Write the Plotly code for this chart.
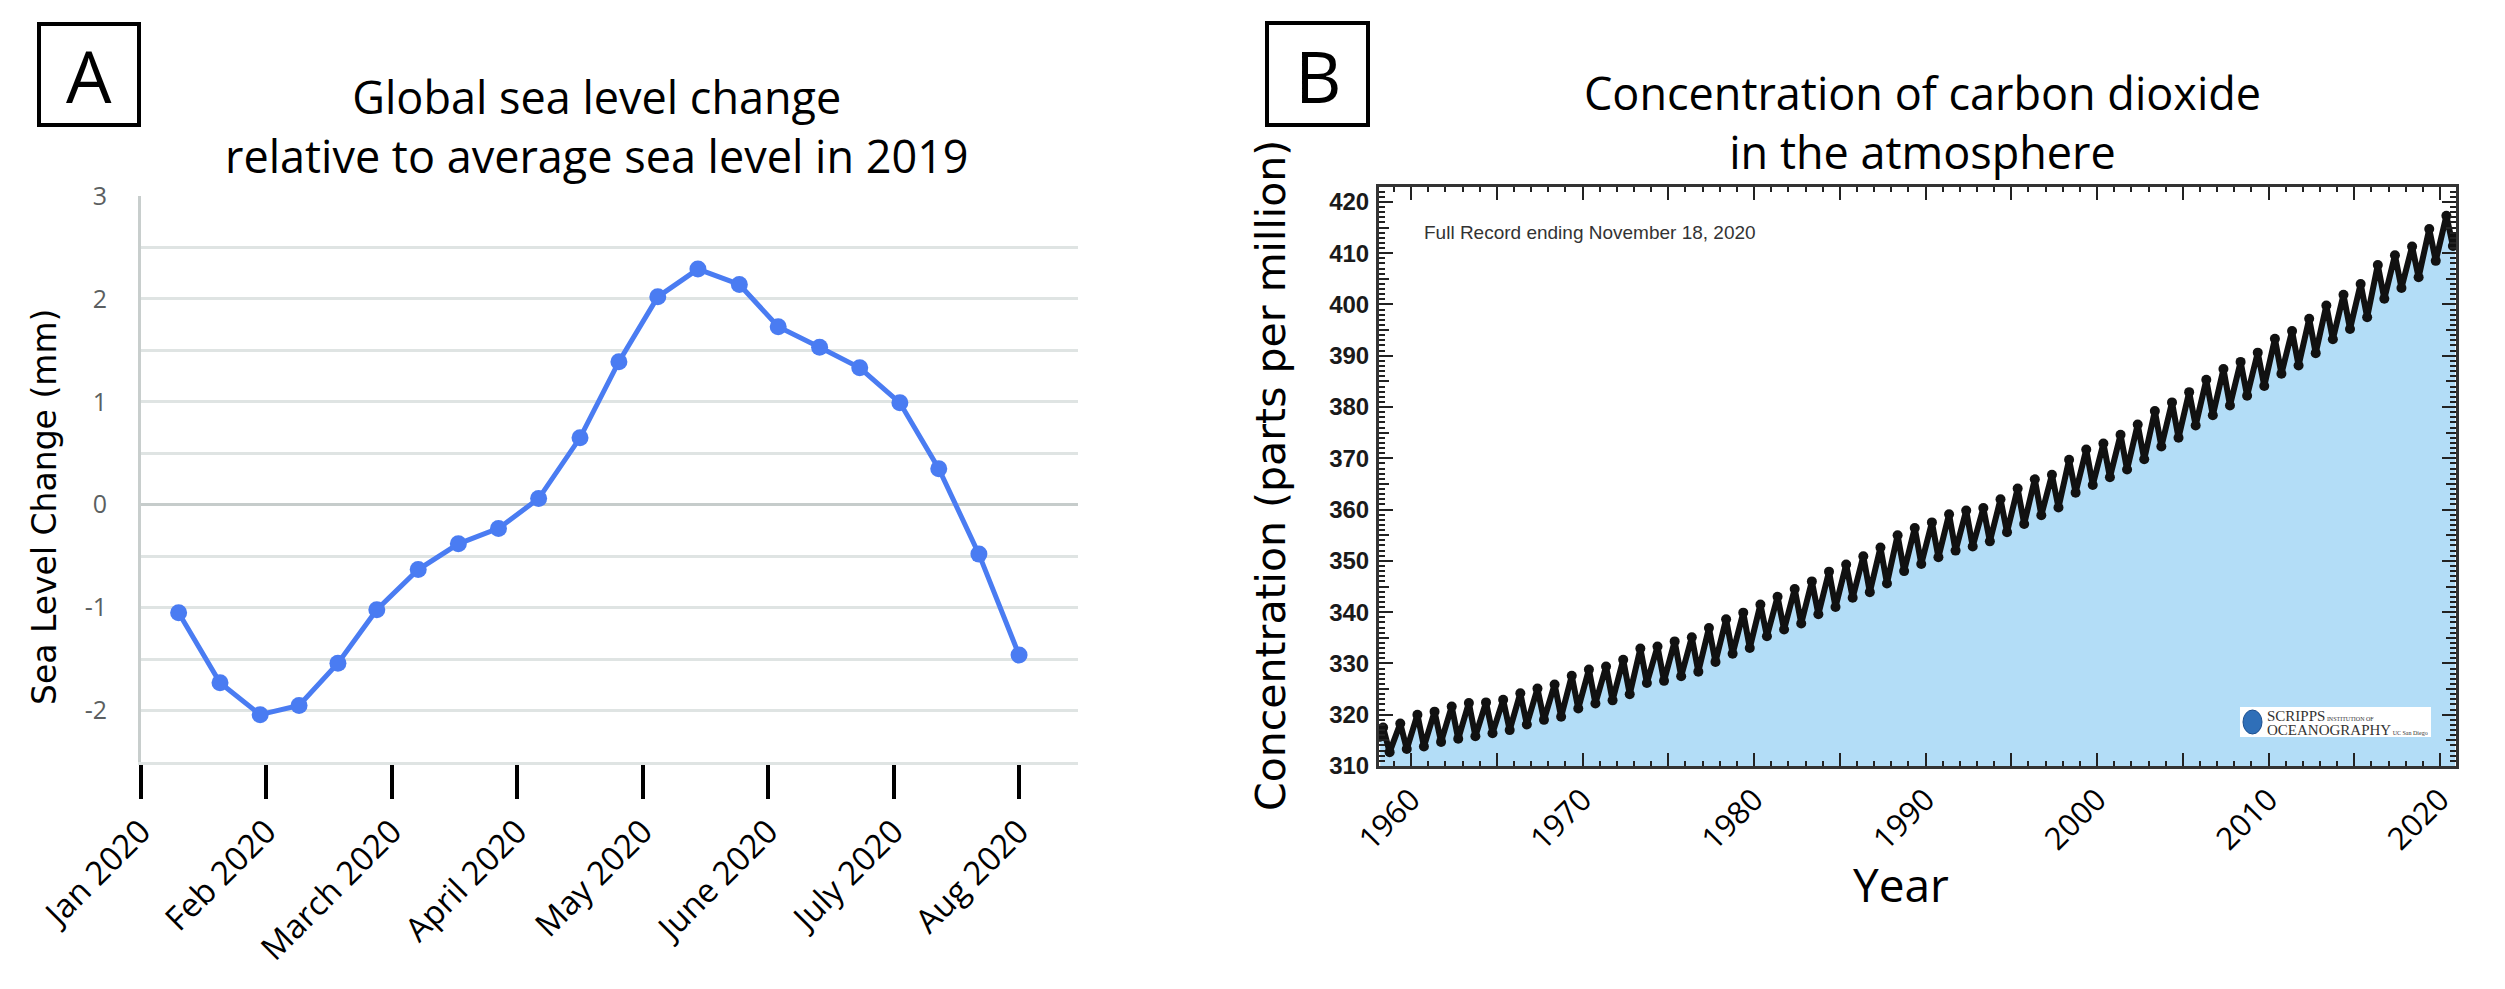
import plotly.graph_objects as go

# ---------------- data: panel A (sea level) ----------------
sea_month_pos = [0.30, 0.63, 0.95, 1.26, 1.57, 1.88, 2.21, 2.53, 2.85, 3.17, 3.50,
                 3.81, 4.12, 4.44, 4.77, 5.08, 5.41, 5.73, 6.05, 6.36, 6.68, 7.00]
sea_level_mm = [-1.05, -1.73, -2.04, -1.95, -1.54, -1.02, -0.63, -0.38, -0.23, 0.06, 0.65,
                1.39, 2.02, 2.29, 2.14, 1.73, 1.53, 1.33, 0.99, 0.35, -0.48, -1.46]
month_tick_pos = [0, 1, 2, 3, 4, 5, 6, 7]
month_labels = ["Jan 2020", "Feb 2020", "March 2020", "April 2020", "May 2020",
                "June 2020", "July 2020", "Aug 2020"]
sea_tick_vals = [-2, -1, 0, 1, 2, 3]
sea_tick_text = ["-2", "-1", "0", "1", "2", "3"]

# ---------------- data: panel B (CO2) ----------------
co2_years = list(range(1958, 2021))
co2_may_peak = [317.5, 318.3, 320.0, 320.6, 321.6, 322.3, 322.4, 322.9, 324.2, 325.1,
                325.9, 327.6, 328.8, 329.4, 330.7, 332.9, 333.3, 334.3, 335.1, 336.9,
                338.6, 339.9, 341.5, 343.0, 344.5, 346.0, 347.9, 349.3, 350.9, 352.6,
                355.0, 356.4, 357.5, 359.1, 359.8, 360.3, 362.0, 364.1, 365.9, 366.8,
                369.7, 371.7, 372.9, 374.6, 376.6, 379.2, 380.9, 382.9, 385.3, 387.4,
                388.8, 390.6, 393.3, 394.8, 397.2, 399.8, 401.9, 404.0, 407.7, 409.6,
                411.3, 414.7, 417.3]
co2_oct_trough = [312.7, 313.3, 313.8, 314.7, 315.3, 315.8, 316.4, 317.0, 318.1, 319.0,
                  319.6, 321.2, 322.2, 322.8, 324.0, 326.2, 326.6, 327.5, 328.4, 330.3,
                  331.9, 333.0, 335.3, 336.6, 337.8, 339.6, 341.0, 342.8, 343.9, 345.6,
                  348.0, 349.4, 350.7, 352.0, 352.8, 353.8, 355.6, 357.2, 358.9, 360.4,
                  363.3, 364.8, 366.3, 367.8, 369.8, 372.3, 374.0, 376.4, 378.4, 380.3,
                  382.2, 384.1, 386.5, 388.1, 390.5, 393.2, 395.2, 397.5, 401.1, 403.2,
                  405.3, 408.5, 411.4]
co2_first = (1958.2, 315.7)     # March 1958
co2_last = (2020.88, 413.0)     # November 2020
year_tick_vals = list(range(1960, 2021, 5))
year_tick_text = [str(y) if y % 10 == 0 else "" for y in year_tick_vals]
ppm_tick_vals = list(range(310, 421, 10))
ppm_mid_vals = list(range(315, 420, 10))

co2_x = [co2_first[0]]
co2_y = [co2_first[1]]
for yr, pk, tr in zip(co2_years, co2_may_peak, co2_oct_trough):
    co2_x += [yr + 0.37, yr + 0.75]
    co2_y += [pk, tr]
co2_x.append(co2_last[0])
co2_y.append(co2_last[1])

# ---------------- layout helpers ----------------
W, H = 2505, 989
def fx(p):
    return p / W
def fy(p):
    return 1 - p / H

HUM = "Open Sans, Noto Sans, sans-serif"
ARIAL = "Liberation Sans, Arial, sans-serif"
GEO = "DejaVu Sans, sans-serif"
BLUE = "#4a7cf2"

fig = go.Figure()
fig.add_trace(go.Scatter(
    x=sea_month_pos, y=sea_level_mm, mode="lines+markers",
    line=dict(color=BLUE, width=5), marker=dict(size=17, color=BLUE),
    xaxis="x", yaxis="y", hoverinfo="skip"))
fig.add_trace(go.Scatter(
    x=co2_x, y=co2_y, mode="lines+markers", fill="tozeroy", fillcolor="#b3ddf7",
    line=dict(color="#111111", width=6), marker=dict(size=10, color="#111111"),
    xaxis="x2", yaxis="y2", hoverinfo="skip"))
fig.add_trace(go.Scatter(x=[], y=[], xaxis="x2", yaxis="y3", hoverinfo="skip"))

grid = "#dfe4e3"
fig.update_layout(
    width=W, height=H, margin=dict(l=0, r=0, t=0, b=0, autoexpand=False),
    paper_bgcolor="white", plot_bgcolor="rgba(0,0,0,0)", showlegend=False,
    xaxis=dict(domain=[fx(141), fx(1078)], range=[0, 7.47], anchor="y", automargin=False,
               tickmode="array", tickvals=month_tick_pos, ticktext=month_labels,
               tickangle=-45, ticks="outside", ticklen=34, tickwidth=4, tickcolor="black",
               tickfont=dict(family=HUM, size=33, color="black"),
               showgrid=False, zeroline=False, showline=True, linecolor=grid, linewidth=3),
    yaxis=dict(domain=[fy(762), fy(196)], range=[-2.5, 3], anchor="x", automargin=False,
               tickmode="array", tickvals=sea_tick_vals, ticktext=sea_tick_text,
               ticks="", ticklabelstandoff=26,
               tickfont=dict(family=HUM, size=25, color="#5b5f61"),
               showgrid=True, gridcolor=grid, gridwidth=3,
               minor=dict(tick0=0, dtick=0.5, showgrid=True, gridcolor=grid, gridwidth=3),
               zeroline=True, zerolinecolor="#c6cccb", zerolinewidth=3,
               showline=True, linecolor="#c8cecd", linewidth=3),
    xaxis2=dict(domain=[fx(1379), fx(2456)], range=[1958.13, 2020.93], anchor="y2",
                automargin=False,
                tickmode="array", tickvals=year_tick_vals, ticktext=year_tick_text,
                tickangle=-45, ticks="inside", ticklen=13, tickwidth=2, tickcolor="#222222",
                minor=dict(tick0=1960, dtick=1, ticks="inside", ticklen=5, tickwidth=2,
                           tickcolor="#222222"),
                tickfont=dict(family=HUM, size=31, color="black"),
                showgrid=False, zeroline=False, showline=True, linecolor="#333333",
                linewidth=3, mirror="ticks"),
    yaxis2=dict(domain=[fy(766), fy(187)], range=[310, 422.9], anchor="x2",
                automargin=False,
                tickmode="array", tickvals=ppm_tick_vals,
                ticktext=[str(v) for v in ppm_tick_vals],
                ticks="inside", ticklen=14, tickwidth=2, tickcolor="#222222",
                minor=dict(tick0=310, dtick=1, ticks="inside", ticklen=6, tickwidth=2,
                           tickcolor="#222222"),
                tickfont=dict(family=ARIAL, size=24, color="#1a1a1a", weight="bold"),
                ticklabelstandoff=2,
                showgrid=False, zeroline=False, showline=True, linecolor="#333333",
                linewidth=3, mirror="ticks"),
    yaxis3=dict(overlaying="y2", anchor="x2", range=[310, 422.9], side="left",
                automargin=False,
                tickmode="array", tickvals=ppm_mid_vals, ticks="inside", ticklen=10,
                tickwidth=2, tickcolor="#222222", showticklabels=False,
                showgrid=False, zeroline=False, showline=False, mirror="ticks"),
)

ann = []
def txt(text, x, y, size, family, color="black", angle=0, xanchor="center", **kw):
    ann.append(dict(text=text, x=fx(x), y=fy(y), xref="paper", yref="paper",
                    showarrow=False, textangle=angle, xanchor=xanchor, yanchor="middle",
                    font=dict(size=size, family=family, color=color), **kw))

txt("A", 89, 75, 72, HUM)
txt("B", 1318, 75, 72, HUM)
txt("Global sea level change<br>relative to average sea level in 2019", 597, 126, 45, HUM)
txt("Concentration of carbon dioxide<br>in the atmosphere", 1922, 122, 45, HUM)
txt("Sea Level Change (mm)", 44, 507, 33, GEO, angle=-90)
txt("Concentration (parts per million)", 1271, 476, 41, GEO, angle=-90)
txt("Year", 1901, 884, 46, HUM)
txt("Full Record ending November 18, 2020", 1422, 232, 19, ARIAL, color="#333333",
    xanchor="left")
txt("SCRIPPS<span style='font-size:6px'> INSTITUTION OF</span>", 2265, 716, 15,
    "Liberation Serif, serif", color="#333333", xanchor="left")
txt("OCEANOGRAPHY<span style='font-size:6px'> UC San Diego</span>", 2265, 730, 15,
    "Liberation Serif, serif", color="#333333", xanchor="left")
fig.update_layout(annotations=ann)

shapes = [
    dict(type="rect", xref="paper", yref="paper", x0=fx(39), x1=fx(139), y0=fy(125), y1=fy(24),
         line=dict(color="black", width=4), fillcolor="rgba(0,0,0,0)"),
    dict(type="rect", xref="paper", yref="paper", x0=fx(1267), x1=fx(1368), y0=fy(125), y1=fy(23),
         line=dict(color="black", width=4), fillcolor="rgba(0,0,0,0)"),
    dict(type="rect", xref="paper", yref="paper", x0=fx(2240), x1=fx(2431), y0=fy(737), y1=fy(707),
         line=dict(width=0), fillcolor="white"),
    dict(type="circle", xref="paper", yref="paper", x0=fx(2243), x1=fx(2262), y0=fy(734), y1=fy(710),
         line=dict(color="#1c4f8f", width=1), fillcolor="#2f6fb8"),
]
fig.update_layout(shapes=shapes)

fig.write_html("out.html")
